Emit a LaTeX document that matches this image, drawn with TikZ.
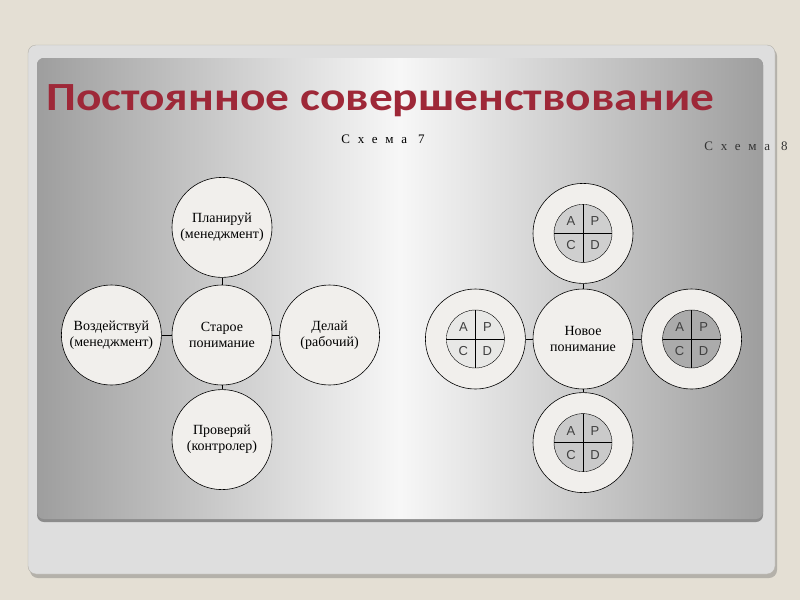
\documentclass[tikz,border=0pt]{standalone}
\usepackage{fontspec}
\setmainfont{Liberation Serif}
\newfontfamily\titlefont{Carlito}
\newfontfamily\lettersfont{Liberation Sans}
\newfontfamily\spacedfont[LetterSpace=60]{Liberation Serif}
\usetikzlibrary{positioning}

\definecolor{page}{HTML}{E4DFD4}
\definecolor{panel}{HTML}{DEDEDE}
\definecolor{panelrim}{HTML}{B4B1AA}
\definecolor{slideedge}{HTML}{9E9E9E}
\definecolor{slidemid}{HTML}{F7F7F7}
\definecolor{titlered}{HTML}{9E2838}
\definecolor{bubblefill}{HTML}{F1EFEC}
\definecolor{pdcatop}{HTML}{CFCFCF}
\definecolor{pdcaleft}{HTML}{E8E8E6}
\definecolor{pdcaright}{HTML}{ABABAB}
\definecolor{pdcabottom}{HTML}{CACACA}

\begin{document}
\begin{tikzpicture}[x=1pt, y=-1pt, node distance=7pt,
    bubble/.style={draw, circle, semithick, fill=bubblefill, minimum size=100pt, inner sep=0pt,
      align=center, font=\fontsize{14}{16}\selectfont},
    link/.style={draw, thin},
    letter/.style={text=black!75, font=\lettersfont\fontsize{13}{13}\selectfont}]
    \useasboundingbox (0,0) rectangle (800,600);
    \fill[page] (0,0) rectangle (800,600);

    % slide frame
    \fill[panelrim, rounded corners=8pt] (30,48) rectangle (777,578);
    \fill[panel, rounded corners=8pt, draw=panelrim] (28,45) rectangle (775,574);
    \fill[black!45, rounded corners=7pt] (37,58) rectangle (763,522);
    \shade[rounded corners=7pt, left color=slideedge, right color=slideedge, middle color=slidemid]
      (37,58) rectangle (763,519);

    % headings
    \node[anchor=base west, inner sep=0pt, text=titlered, font=\titlefont\bfseries\fontsize{40}{40}\selectfont]
      (title) at (46,110) {\scalebox{1.185}[1]{Постоянное совершенствование}};
    \node[anchor=base, inner sep=0pt, font=\spacedfont\fontsize{13}{13}\selectfont]
      (schemeA) at (383,143) {Схема 7};
    \node[anchor=base, inner sep=0pt, text=black!80, font=\spacedfont\fontsize{13}{13}\selectfont]
      (schemeB) at (746,150) {Схема 8};

    % scheme 7
    \node[bubble] (old) at (222,335) {Старое\\понимание};
    \node[bubble, above = of old] (plan) {Планируй\\(менеджмент)};
    \node[bubble, below = 4pt of old] (check) {Проверяй\\(контролер)};
    \node[bubble, left = 10pt of old] (act) {Воздействуй\\(менеджмент)};
    \node[bubble, right = of old] (do) {Делай\\(рабочий)};
    \draw[link] (plan) -- (old);
    \draw[link] (check) -- (old);
    \draw[link] (act) -- (old);
    \draw[link] (do) -- (old);

    % scheme 8
    \node[bubble] (new) at (583,339) {Новое\\понимание};
    \node[bubble, above = 5pt of new] (pt) {};
    \node[bubble, below = 3pt of new] (pb) {};
    \node[bubble, left = of new] (pl) {};
    \node[bubble, right = 8pt of new] (pr) {};
    \draw[link] (pt) -- (new);
    \draw[link] (pb) -- (new);
    \draw[link] (pl) -- (new);
    \draw[link] (pr) -- (new);

    \foreach \n/\c in {pt/pdcatop, pl/pdcaleft, pr/pdcaright, pb/pdcabottom}{
      \draw[fill=\c] (\n.center) circle (29pt);
      \draw ([xshift=-29pt]\n.center) -- ([xshift=29pt]\n.center);
      \draw ([yshift=29pt]\n.center) -- ([yshift=-29pt]\n.center);
      \node[letter] at ([xshift=-12pt, yshift=12pt]\n.center) {A};
      \node[letter] at ([xshift=12pt, yshift=12pt]\n.center) {P};
      \node[letter] at ([xshift=-12pt, yshift=-12pt]\n.center) {C};
      \node[letter] at ([xshift=12pt, yshift=-12pt]\n.center) {D};
    }
\end{tikzpicture}
\end{document}
